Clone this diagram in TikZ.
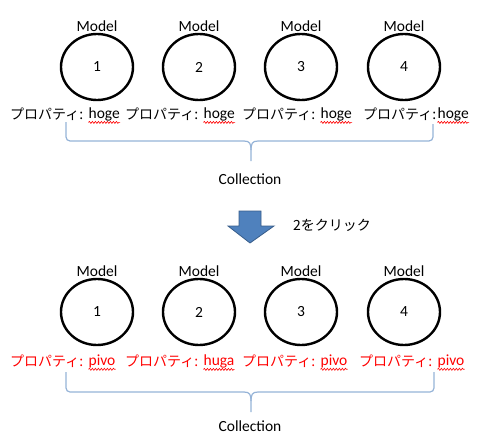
\documentclass[tikz,border=0pt]{standalone}
\usepackage{fontspec}
\setmainfont{Carlito}
\newfontfamily\jp{Noto Sans CJK JP}
\usetikzlibrary{positioning,shapes.geometric,decorations.pathmorphing}
\definecolor{arrowblue}{RGB}{79,129,189}
\definecolor{arrowedge}{RGB}{56,93,138}
\definecolor{bracecol}{RGB}{149,179,215}

\begin{document}
\begin{tikzpicture}
  [x=1pt,y=-1pt,
  model/.style={ellipse,draw=black,line width=2.4pt,minimum width=72pt,
                minimum height=66pt,inner sep=0pt,font=\fontsize{15.5}{18}\selectfont},
  tag/.style={inner sep=0pt,font=\fontsize{15.5}{18}\selectfont},
  prop/.style={inner sep=0pt,anchor=west,font=\jp\fontsize{14}{17}\selectfont},
  val/.style={inner sep=0pt,font=\fontsize{15.5}{18}\selectfont},
  squig/.style={red,line width=0.6pt,decorate,
                decoration={snake,amplitude=1pt,segment length=3pt}},
  brace/.style={draw=bracecol,line width=1.2pt,rounded corners=4pt}]
  \useasboundingbox (0,0) rectangle (490,444);

  % before the click
  \node[model] (a1) at (97,67)  {1};
  \node[model] (a2) at (199,67) {2};
  \node[model] (a3) at (301,67) {3};
  \node[model] (a4) at (404,67) {4};
  \foreach \n in {1,...,4}
    \node[tag] (ta\n) [above=1pt of a\n] {Model};

  \node[prop] (pa1) at (10,114)  {プロパティ:};
  \node[val]  (va1) [right=5pt of pa1] {hoge};
  \node[prop] (pa2) at (125,114) {プロパティ:};
  \node[val]  (va2) [right=5pt of pa2] {hoge};
  \node[prop] (pa3) at (242,114) {プロパティ:};
  \node[val]  (va3) [right=5pt of pa3] {hoge};
  \node[prop] (pa4) at (363,114) {プロパティ:};
  \node[val]  (va4) [right=1pt of pa4] {hoge};
  \foreach \n in {1,...,4}
    \draw[squig] ([yshift=-1.5pt]va\n.south west) -- ([yshift=-1.5pt]va\n.south east);

  \coordinate (bal) at (66,122);
  \coordinate (bar) at (433,124);
  \coordinate (bat) at (251,161);
  \draw[brace] (bal) -- (66,141) -- (244,141);
  \draw[brace] (bar) -- (433,141) -- (258,141);
  \draw[draw=bracecol,line width=1.2pt] (244,141) .. controls (250,141) and (251,144) .. (251,150) -- (bat);
  \draw[draw=bracecol,line width=1.2pt] (258,141) .. controls (252,141) and (251,144) .. (251,150);
  \node[tag] (ca) at (250,179) {Collection};

  % the click
  \draw[fill=arrowblue,draw=arrowedge,line width=0.8pt]
    (239,211) -- (261,211) -- (261,226) -- (274,226) -- (250,243)
    -- (228,226) -- (239,226) -- cycle;
  \node[prop] (click) at (293,225) {2をクリック};

  % after the click
  \node[model] (b1) at (97,312)  {1};
  \node[model] (b2) at (199,312) {2};
  \node[model] (b3) at (301,312) {3};
  \node[model] (b4) at (404,312) {4};
  \foreach \n in {1,...,4}
    \node[tag] (tb\n) [above=1pt of b\n] {Model};

  \node[prop,red] (pb1) at (10,361)  {プロパティ:};
  \node[val,red]  (vb1) [right=5pt of pb1] {pivo};
  \node[prop,red] (pb2) at (125,361) {プロパティ:};
  \node[val,red]  (vb2) [right=5pt of pb2] {huga};
  \node[prop,red] (pb3) at (242,361) {プロパティ:};
  \node[val,red]  (vb3) [right=5pt of pb3] {pivo};
  \node[prop,red] (pb4) at (359,361) {プロパティ:};
  \node[val,red]  (vb4) [right=5pt of pb4] {pivo};
  \foreach \n in {1,...,4}
    \draw[squig] ([yshift=-1.5pt]vb\n.south west) -- ([yshift=-1.5pt]vb\n.south east);

  \coordinate (bbl) at (66,372);
  \coordinate (bbr) at (434,372);
  \coordinate (bbt) at (251,412);
  \draw[brace] (bbl) -- (66,392) -- (244,392);
  \draw[brace] (bbr) -- (434,392) -- (258,392);
  \draw[draw=bracecol,line width=1.2pt] (244,392) .. controls (250,392) and (251,395) .. (251,401) -- (bbt);
  \draw[draw=bracecol,line width=1.2pt] (258,392) .. controls (252,392) and (251,395) .. (251,401);
  \node[tag] (cb) at (250,426) {Collection};
\end{tikzpicture}
\end{document}
